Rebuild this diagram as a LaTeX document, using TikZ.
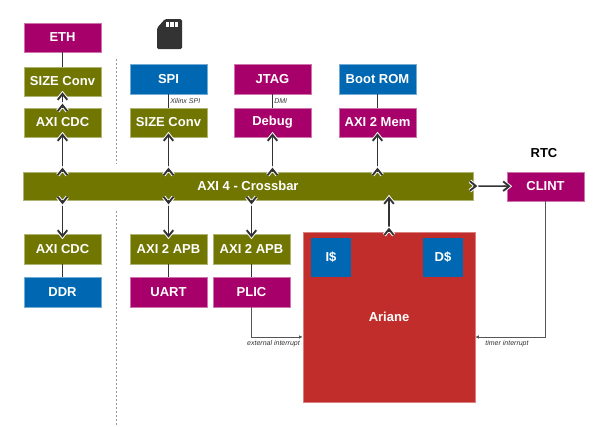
\documentclass[tikz,border=0pt]{standalone}
\usepackage{fontspec}
\setmainfont{Liberation Sans}
\usetikzlibrary{arrows.meta,calc,decorations.markings}
\definecolor{olv}{RGB}{112,118,0}
\definecolor{mag}{RGB}{168,0,106}
\definecolor{blu}{RGB}{0,104,178}
\definecolor{ared}{RGB}{193,45,43}
\definecolor{dk}{RGB}{51,51,51}
\definecolor{irqc}{RGB}{85,85,85}
\newcommand\chevmark{%
  \draw[white, line width=3.8pt, miter limit=10] (-6,4.8) -- (0,0) -- (-6,-4.8);
  \draw[dk, line width=1.9pt, miter limit=10] (-6,4.8) -- (0,0) -- (-6,-4.8);}
\tikzset{
  box/.style={minimum width=77pt, minimum height=29pt, inner sep=0pt, line width=0.7pt,
    text=white, font=\bfseries\fontsize{13}{14}\selectfont},
  obox/.style={box, fill=olv, draw=olv!55!white},
  mbox/.style={box, fill=mag, draw=mag!55!white},
  bbox/.style={box, fill=blu, draw=blu!55!white},
  link/.style={draw=dk, line width=1.5pt},
  bus/.style={link, postaction={decorate, decoration={markings,
      mark=at position 2.5pt with {\chevmark \draw[dk, line width=1.5pt] (-2.5,0) -- (0,0);},
      mark=at position 1 with {\begin{scope}[xshift=2.5pt]\chevmark\end{scope}
        \draw[dk, line width=1.5pt] (-3,0) -- (2.5,0);}}}},
  irq/.style={draw=irqc, line width=0.8pt, -{Latex[length=3.5pt,width=3.5pt]}},
  small/.style={font=\itshape\fontsize{7}{8}\selectfont, text=dk, inner sep=1pt},
}
\begin{document}
\begin{tikzpicture}[x=1pt,y=-1pt]
\useasboundingbox (0,0) rectangle (600,426);
\fill[white] (0,0) rectangle (600,426);

% dotted separator
\draw[draw=black!40, line width=1pt, dash pattern=on 1.5pt off 2.5pt] (116,59) -- (116,164);
\draw[draw=black!40, line width=1pt, dash pattern=on 1.5pt off 2.5pt] (116,211) -- (116,426);

% SD card icon
\fill[dk, rounded corners=1.5pt] (165,19) -- (182,19) -- (182,49) -- (157,49) -- (157,28) -- cycle;
\fill[white] (166,22) rectangle (169.3,27);
\fill[white] (170.3,22) rectangle (173.6,27);
\fill[white] (174.6,22) rectangle (178,27);

% nodes
\node[mbox] (eth) at (62.5,37.5) {ETH};
\node[obox] (sizel) at (62.5,81.5) {SIZE Conv};
\node[obox] (cdcl) at (62.5,122.5) {AXI CDC};
\node[bbox, minimum height=30pt] (spi) at (168.5,79) {SPI};
\node[obox] (sizem) at (168.5,122.5) {SIZE Conv};
\node[mbox, minimum height=30pt] (jtag) at (272.5,79) {JTAG};
\node[mbox] (debug) at (272.5,122.5) {Debug};
\node[bbox, minimum height=30pt] (rom) at (377.5,79) {Boot ROM};
\node[mbox] (mem) at (377.5,122.5) {AXI 2 Mem};

\node[obox, minimum width=450pt, minimum height=28pt] (xbar) at (248,186) {AXI 4 - Crossbar};
\node[mbox] (clint) at (545.5,186.5) {CLINT};
\node[font=\bfseries\fontsize{13}{14}\selectfont, text=black, inner sep=0pt] (rtc) at (544,153) {RTC};

\node[obox, minimum height=30pt] (cdcb) at (62.5,249) {AXI CDC};
\node[bbox, minimum height=30pt] (ddr) at (62.5,292) {DDR};
\node[obox, minimum height=30pt] (apb1) at (168.5,249) {AXI 2 APB};
\node[mbox, minimum height=30pt] (uart) at (168.5,292) {UART};
\node[obox, minimum height=30pt] (apb2) at (251.5,249) {AXI 2 APB};
\node[mbox, minimum height=30pt] (plic) at (251.5,292) {PLIC};

\node[box, fill=ared, draw=ared!60!white, minimum width=172pt, minimum height=170pt] (ariane) at (389,317) {Ariane};
\node[box, fill=blu, draw=none, minimum width=40pt, minimum height=39pt] (icache) at (331,257.5) {I\$};
\node[box, fill=blu, draw=none, minimum width=40pt, minimum height=39pt] (dcache) at (443,257.5) {D\$};

% plain links
\draw[link] (eth) -- (sizel);
\draw[link] (spi) -- node[small, right, pos=0.5] {Xilinx SPI} (sizem);
\draw[link] (jtag) -- node[small, right, pos=0.5] {DMI} (debug);
\draw[link] (rom) -- (mem);
\draw[link] (cdcb) -- (ddr);
\draw[link] (apb1) -- (uart);
\draw[link] (apb2) -- (plic);

% bus links
\draw[bus] (cdcl) -- (sizel);
\draw[bus] (xbar.north -| cdcl) -- (cdcl);
\draw[bus] (xbar.north -| sizem) -- (sizem);
\draw[bus] (xbar.north -| debug) -- (debug);
\draw[bus] (xbar.north -| mem) -- (mem);
\draw[bus] (xbar.east) -- (clint);
\draw[bus] (xbar.south -| cdcb) -- (cdcb);
\draw[bus] (xbar.south -| apb1) -- (apb1);
\draw[bus] (xbar.south -| apb2) -- (apb2);
\draw[bus] (ariane.north) -- (ariane.north |- xbar.south);

% interrupts
\coordinate (eiy) at (303,337);
\draw[irq] (plic) |- (ariane.west |- eiy);
\draw[irq] (clint) |- (ariane.east |- eiy);
\node[small, anchor=north] (eilbl) at (273.5,339) {external interrupt};
\node[small, anchor=north] (tilbl) at (507,339) {timer interrupt};
\end{tikzpicture}
\end{document}
